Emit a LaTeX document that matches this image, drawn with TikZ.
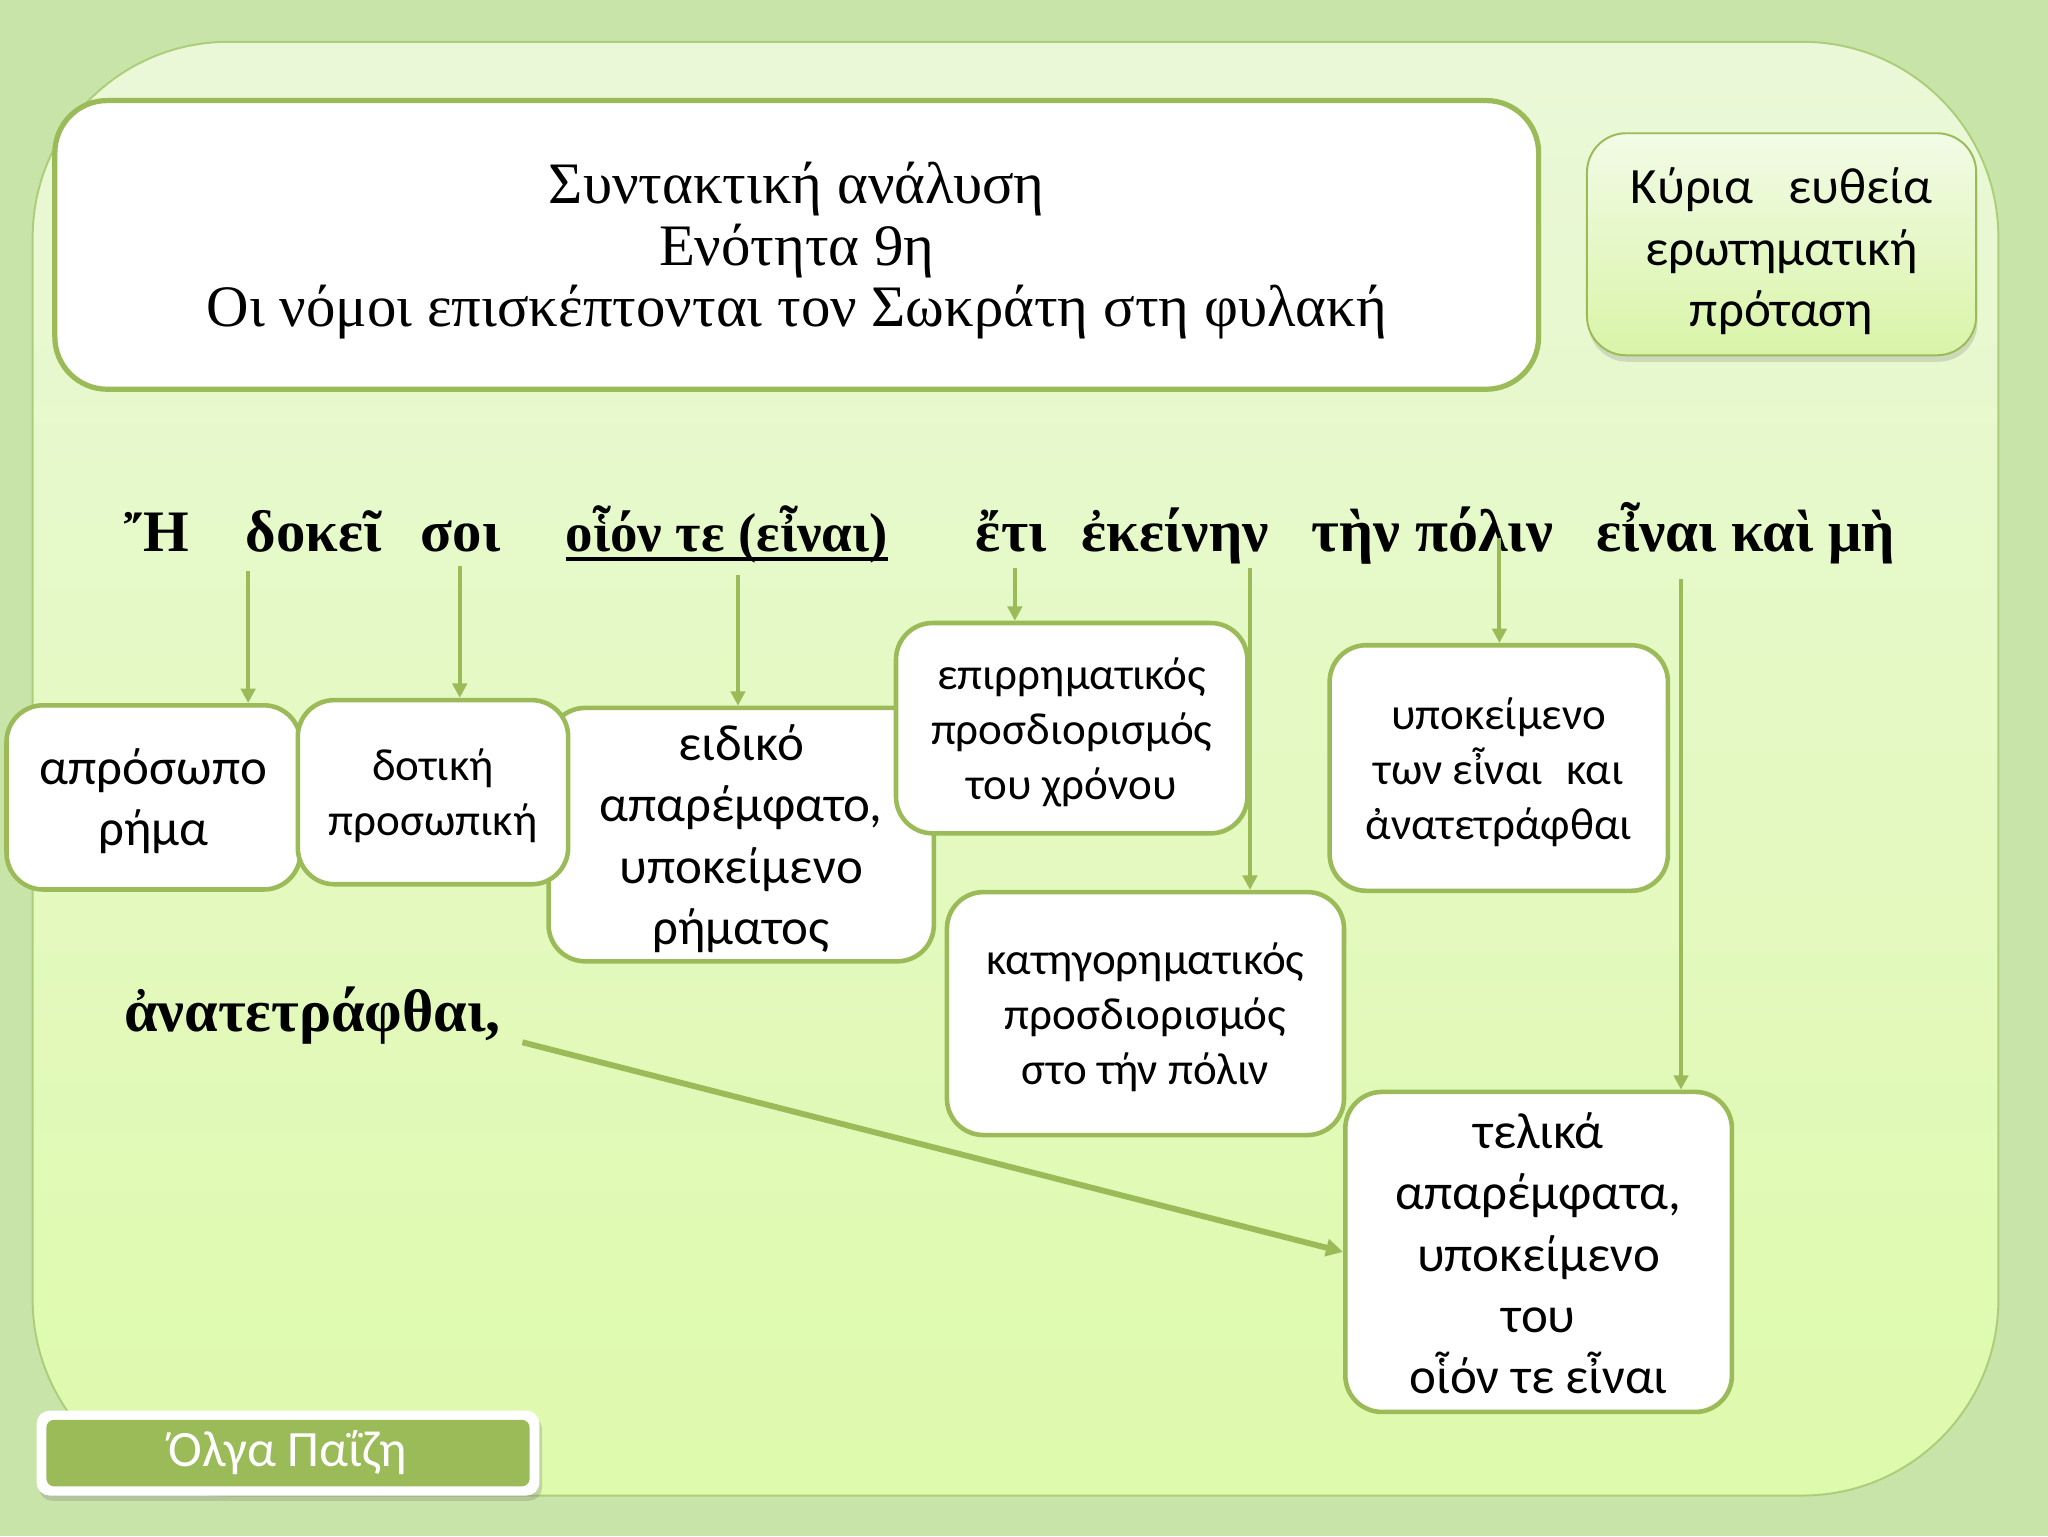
\documentclass[tikz,border=0pt]{standalone}
\usepackage{fontspec}
\setmainfont{Liberation Serif}
\newfontfamily\boxfont{Carlito}
\usetikzlibrary{arrows.meta,shadows}
\definecolor{bgout}{RGB}{201,228,168}
\definecolor{pantop}{RGB}{234,248,216}
\definecolor{panbot}{RGB}{222,250,172}
\definecolor{gline}{RGB}{155,187,89}
\definecolor{panline}{RGB}{172,206,122}
\definecolor{rtop}{RGB}{242,251,230}
\definecolor{rbot}{RGB}{217,244,168}
\begin{document}
\begin{tikzpicture}[x=1pt,y=-1pt,
  box/.style={draw=gline, line width=3.5pt, fill=white, rounded corners=28pt, inner sep=0pt},
  smalltxt/.style={align=center, inner sep=0pt, yshift=-3pt, font=\boxfont\fontsize{34.5}{42}\selectfont},
  bigtxt/.style={align=center, inner sep=0pt, yshift=-3pt, font=\boxfont\fontsize{39}{47}\selectfont},
  word/.style={anchor=base west, inner sep=0pt, font=\bfseries\fontsize{45}{50}\selectfont},
  arr/.style={draw=gline, line width=3pt, -{Triangle[length=11pt,width=11pt]}}]
\useasboundingbox (0,0) rectangle (1568,1176);
\fill[bgout] (0,0) rectangle (1568,1176);
% panel
\path[top color=pantop, bottom color=panbot, draw=panline, line width=1.5pt, rounded corners=150pt]
  (25,32) rectangle (1530,1145);
% title box
\node[draw=gline, line width=4pt, fill=white, rounded corners=40pt, minimum width=1136pt, minimum height=221pt, inner sep=0pt,
  label={[align=center, inner sep=0pt, yshift=-4.5pt, font=\fontsize{45}{47}\selectfont]center:{Συντακτική ανάλυση\\Ενότητα 9η\\Οι νόμοι επισκέπτονται τον Σωκράτη στη φυλακή}}]
  (title) at (610,187.5) {};
% right box
\node[draw=gline, line width=1.5pt, top color=rtop, bottom color=rbot, rounded corners=30pt, minimum width=298pt, minimum height=170pt, inner sep=0pt, drop shadow={shadow xshift=1pt, shadow yshift=-5pt, opacity=0.25},
  label={[align=center, inner sep=0pt, yshift=-5.5pt, font=\boxfont\fontsize{39}{47}\selectfont]center:{Κύρια\hspace{0.45em} ευθεία\\ερωτηματική\\πρόταση}}]
  (kind) at (1364,187) {};
% boxes
\node[box, minimum width=295pt, minimum height=194pt, label={[bigtxt]center:{ειδικό\\απαρέμφατο,\\υποκείμενο\\ρήματος}}] (b3) at (567.5,639) {};
\node[box, minimum width=225pt, minimum height=141pt, label={[bigtxt]center:{απρόσωπο\\ρήμα}}] (b1) at (117.5,610.5) {};
\node[box, minimum width=207pt, minimum height=141pt, label={[smalltxt]center:{δοτική\\προσωπική}}] (b2) at (331.5,606.5) {};
\node[box, minimum width=269pt, minimum height=161pt, label={[smalltxt]center:{επιρρηματικός\\προσδιορισμός\\του χρόνου}}] (b4) at (820.5,557.5) {};
\node[box, minimum width=304pt, minimum height=186pt, label={[smalltxt]center:{κατηγορηματικός\\προσδιορισμός\\στο τήν πόλιν}}] (b5) at (877,776) {};
\node[box, minimum width=259pt, minimum height=188pt, label={[smalltxt]center:{υποκείμενο\\των εἶναι\hspace{0.3em} και\\ἀνατετράφθαι}}] (b6) at (1147.5,588) {};
\node[box, minimum width=296pt, minimum height=245pt, label={[bigtxt, yshift=2pt]center:{τελικά\\απαρέμφατα,\\υποκείμενο\\του\\οἷόν τε εἶναι}}] (b7) at (1178,958.5) {};
% words
\node[word] (w1) at (95,422) {Ἤ};
\node[word] (w2) at (188,422) {δοκεῖ};
\node[word] (w3) at (322,422) {σοι};
\node[word, font=\bfseries\fontsize{42}{50}\selectfont] (w4) at (433,422) {οἷόν τε (εἶναι)};
\node[word] (w5) at (747,422) {ἔτι};
\node[word] (w6) at (828,422) {ἐκείνην};
\node[word, font=\bfseries\fontsize{46}{50}\selectfont] (w7) at (1004,422) {τὴν πόλιν};
\node[word] (w8) at (1222,422) {εἶναι καὶ μὴ};
\node[word, font=\bfseries\fontsize{46}{50}\selectfont] (w9) at (95,790) {ἀνατετράφθαι,};
\draw[line width=2.5pt] ([yshift=-6pt]w4.base west) -- ([yshift=-6pt]w4.base east);
% arrow starts
\coordinate (s1) at (190,437);
\coordinate (s2) at (352,433);
\coordinate (s3) at (565,440);
\coordinate (s4) at (777,435);
\coordinate (s5) at (957,435);
\coordinate (s6) at (1148,412);
\coordinate (s7) at (1287,443);
\coordinate (s8) at (400,798);
\draw[arr] (s1) -- (s1 |- b1.north);
\draw[arr] (s2) -- (s2 |- b2.north);
\draw[arr] (s3) -- (s3 |- b3.north);
\draw[arr] (s4) -- (s4 |- b4.north);
\draw[arr] (s5) -- (s5 |- b5.north);
\draw[arr] (s6) -- (s6 |- b6.north);
\draw[arr] (s7) -- (s7 |- b7.north);
\draw[arr, line width=4.5pt, -{Triangle[length=13pt,width=13pt]}] (s8) -- (b7.west);
% author
\node[fill=white, rounded corners=10pt, minimum width=385pt, minimum height=65pt, drop shadow={shadow xshift=2pt, shadow yshift=-4pt, opacity=0.3}] (authbg) at (220.5,1112.5) {};
\node[fill=gline, rounded corners=6pt, minimum width=370pt, minimum height=51pt, text=white, font=\boxfont\fontsize{39}{40}\selectfont, inner sep=0pt] (auth) at (authbg) {Όλγα Παΐζη};
\end{tikzpicture}
\end{document}
